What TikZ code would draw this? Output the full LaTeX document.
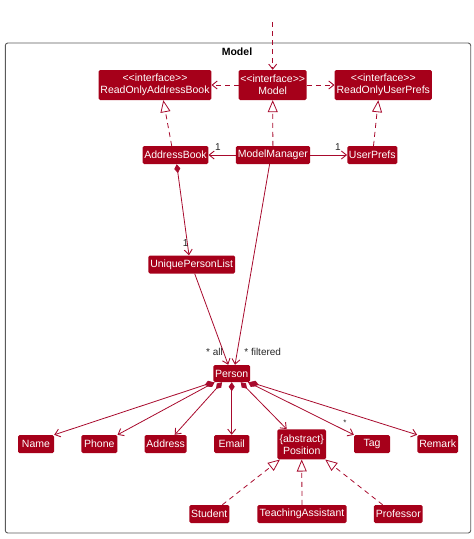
\documentclass[tikz,border=0pt]{standalone}
\usepackage{fontspec}
\setmainfont{Liberation Sans}
\usetikzlibrary{arrows.meta,calc}
\definecolor{boxred}{RGB}{166,0,26}
\definecolor{linered}{RGB}{168,10,45}
\definecolor{framegray}{RGB}{90,90,90}
\newcommand{\stereo}[1]{{<}{<}#1{>}{>}}
\tikzset{
  cls/.style={fill=boxred, text=white, rounded corners=1.5pt, inner sep=1pt,
    font=\fontsize{10.5}{12}\selectfont, align=center, minimum height=18pt},
  cls2/.style={cls, minimum height=30pt},
  conn/.style={draw=linered, line width=0.8pt},
  openarrow/.style={conn, -{Straight Barb[length=5pt,width=8pt,line width=0.9pt]}},
  dasharrow/.style={openarrow, dash pattern=on 5pt off 4pt},
  realize/.style={conn, dash pattern=on 5pt off 4pt,
    -{Triangle[open,fill=white,length=12pt,width=10pt,line width=0.8pt]}},
  compos/.style={conn, {Diamond[length=9pt,width=6pt,fill=linered]}-{Straight Barb[length=5pt,width=8pt,line width=0.9pt]}},
  mult/.style={text=black!85, font=\fontsize{10}{12}\selectfont, inner sep=0pt}
}
\begin{document}
\begin{tikzpicture}[x=1pt,y=-1pt]
\useasboundingbox (0,0) rectangle (474,539);
% package frame
\draw[framegray, line width=0.9pt, rounded corners=2.5pt] (5.3,43) rectangle (470.7,533);
\node[font=\fontsize{10.5}{12}\selectfont\bfseries, inner sep=0pt] (title) at (237,51.5) {Model};

% nodes
\node[cls2, minimum width=112.6pt] (roab) at (155,85) {\stereo{interface}\\ReadOnlyAddressBook};
\node[cls2, minimum width=68pt] (model) at (272.7,85) {\stereo{interface}\\Model};
\node[cls2, minimum width=97.3pt] (roup) at (383.3,85) {\stereo{interface}\\ReadOnlyUserPrefs};
\node[cls, minimum width=65.6pt] (ab) at (175.5,155) {AddressBook};
\node[cls, minimum width=74.3pt] (mm) at (272.9,155) {ModelManager};
\node[cls, minimum width=50pt] (up) at (372.3,155) {UserPrefs};
\node[cls, minimum width=86.7pt] (upl) at (191.7,264.5) {UniquePersonList};
\node[cls, minimum width=36.7pt, minimum height=17pt] (person) at (231.7,373.5) {Person};
\node[cls, minimum width=36pt] (name) at (36,444) {Name};
\node[cls, minimum width=36pt] (phone) at (99.3,444) {Phone};
\node[cls, minimum width=42pt] (address) at (165.7,444) {Address};
\node[cls, minimum width=35.3pt] (email) at (231.7,444) {Email};
\node[cls2, minimum width=48.7pt] (position) at (301.7,444.3) {\{abstract\}\\Position};
\node[cls, minimum width=36pt] (tag) at (372,444) {Tag};
\node[cls, minimum width=40.7pt] (remark) at (437.7,444) {Remark};
\node[cls, minimum width=40pt] (student) at (209.3,514) {Student};
\node[cls, minimum width=89.4pt] (ta) at (302,514) {TeachingAssistant};
\node[cls, minimum width=48.7pt] (prof) at (398.3,514) {Professor};

% incoming dashed arrow
\coordinate (ext) at (272.7,22);
\draw[dasharrow] (ext) -- (model.north);

% interface dependencies
\draw[dasharrow] (model.west) -- (roab.east);
\draw[dasharrow] (model.east) -- (roup.west);

% realizations
\draw[realize] ($(ab.north)+(-3.8,0)$) -- ($(roab.south)+(8.3,0)$);
\draw[realize] (mm.north) -- (model.south);
\draw[realize] ($(up.north)+(1.2,0)$) -- ($(roup.south)+(-5,0)$);

% associations
\draw[openarrow] (mm.west) -- (ab.east);
\node[mult] (m1) at (218,147.5) {1};
\draw[openarrow] (mm.east) -- (up.west);
\node[mult] (m2) at (338,147.5) {1};

\draw[compos] ($(ab.south)+(1.2,0)$) -- ($(upl.north)+(-2.7,0)$);
\node[mult] (m3) at (185.7,243) {1};

\draw[openarrow] ($(upl.south)+(3,0)$) -- ($(person.north)+(-3.5,0)$);
\node[mult] (mall) at (214.5,352) {* all};
\draw[openarrow] ($(mm.south)+(-3.3,0)$) -- ($(person.north)+(3.3,0)$);
\node[mult] (mfilt) at (262.7,352) {* filtered};

% compositions from Person
\draw[compos] (person.south west) -- (name.north east);
\draw[compos] (person.207.7) -- (phone.north east);
\draw[compos] (person.222.7) -- ($(address.north)+(9,0)$);
\draw[compos] (person.south) -- (email.north);
\draw[compos] (person.316) -- ($(position.north)+(-15,0)$);
\draw[compos] (person.332.5) -- (tag.north west);
\node[mult, font=\fontsize{8}{10}\selectfont] (mtag) at (345,422.5) {*};
\draw[compos] (person.south east) -- (remark.north west);

% position subclasses
\draw[realize] ($(student.north)+(13,0)$) -- ($(position.south)+(-21.7,0)$);
\draw[realize] (ta.north) -- (position.south);
\draw[realize] ($(prof.north)+(-15.6,0)$) -- ($(position.south)+(23.5,0)$);
\end{tikzpicture}
\end{document}
